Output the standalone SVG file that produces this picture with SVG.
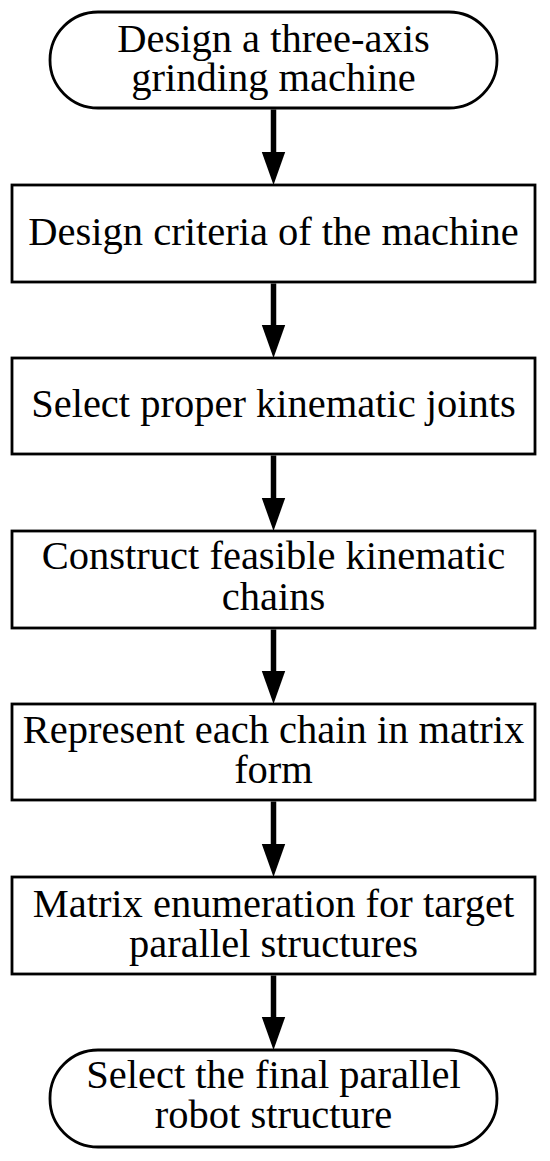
<svg xmlns="http://www.w3.org/2000/svg" width="550" height="1161" viewBox="0 0 550 1161">
<style>
.n{fill:#fff;stroke:#000;stroke-width:2.8}
.t{font-family:"Liberation Serif","Times New Roman",serif;font-size:40.5px;fill:#000;text-anchor:middle}
.c{stroke:#000;stroke-width:5.5;fill:none}
.h{fill:#000;stroke:none}
</style>
<rect width="550" height="1161" fill="#fff"/>
<g id="n1"><rect class="n" x="50" y="12" width="447" height="96" rx="48" ry="48"/><text class="t" x="273.5" y="52"><tspan x="273.5" y="52">Design a three-axis</tspan><tspan x="273.5" y="91">grinding machine</tspan></text></g>
<g id="n2"><rect class="n" x="12" y="185" width="523" height="97"/><text class="t" x="273.5" y="245">Design criteria of the machine</text></g>
<g id="n3"><rect class="n" x="12" y="358" width="523" height="96"/><text class="t" x="273.5" y="417">Select proper kinematic joints</text></g>
<g id="n4"><rect class="n" x="12" y="531" width="523" height="97"/><text class="t" x="273.5" y="569"><tspan x="273.5" y="569">Construct feasible kinematic</tspan><tspan x="273.5" y="610">chains</tspan></text></g>
<g id="n5"><rect class="n" x="12" y="704" width="523" height="96"/><text class="t" x="273.5" y="743"><tspan x="273.5" y="743">Represent each chain in matrix</tspan><tspan x="273.5" y="783">form</tspan></text></g>
<g id="n6"><rect class="n" x="12" y="877" width="523" height="97"/><text class="t" x="273.5" y="917"><tspan x="273.5" y="917">Matrix enumeration for target</tspan><tspan x="273.5" y="957">parallel structures</tspan></text></g>
<g id="n7"><rect class="n" x="50" y="1050" width="447" height="97" rx="48" ry="48"/><text class="t" x="273.5" y="1088"><tspan x="273.5" y="1088">Select the final parallel</tspan><tspan x="273.5" y="1128">robot structure</tspan></text></g>
<g id="connectors">
<path class="c" d="M273.5 109.5V153"/><path class="h" d="M261.8 152L285.2 152L273.5 185Z"/>
<path class="c" d="M273.5 283.5V326"/><path class="h" d="M261.8 325L285.2 325L273.5 358Z"/>
<path class="c" d="M273.5 455.5V499"/><path class="h" d="M261.8 498L285.2 498L273.5 531Z"/>
<path class="c" d="M273.5 629.5V672"/><path class="h" d="M261.8 671L285.2 671L273.5 704Z"/>
<path class="c" d="M273.5 801.5V845"/><path class="h" d="M261.8 844L285.2 844L273.5 877Z"/>
<path class="c" d="M273.5 975.5V1018"/><path class="h" d="M261.8 1017L285.2 1017L273.5 1050Z"/>
</g>
</svg>
